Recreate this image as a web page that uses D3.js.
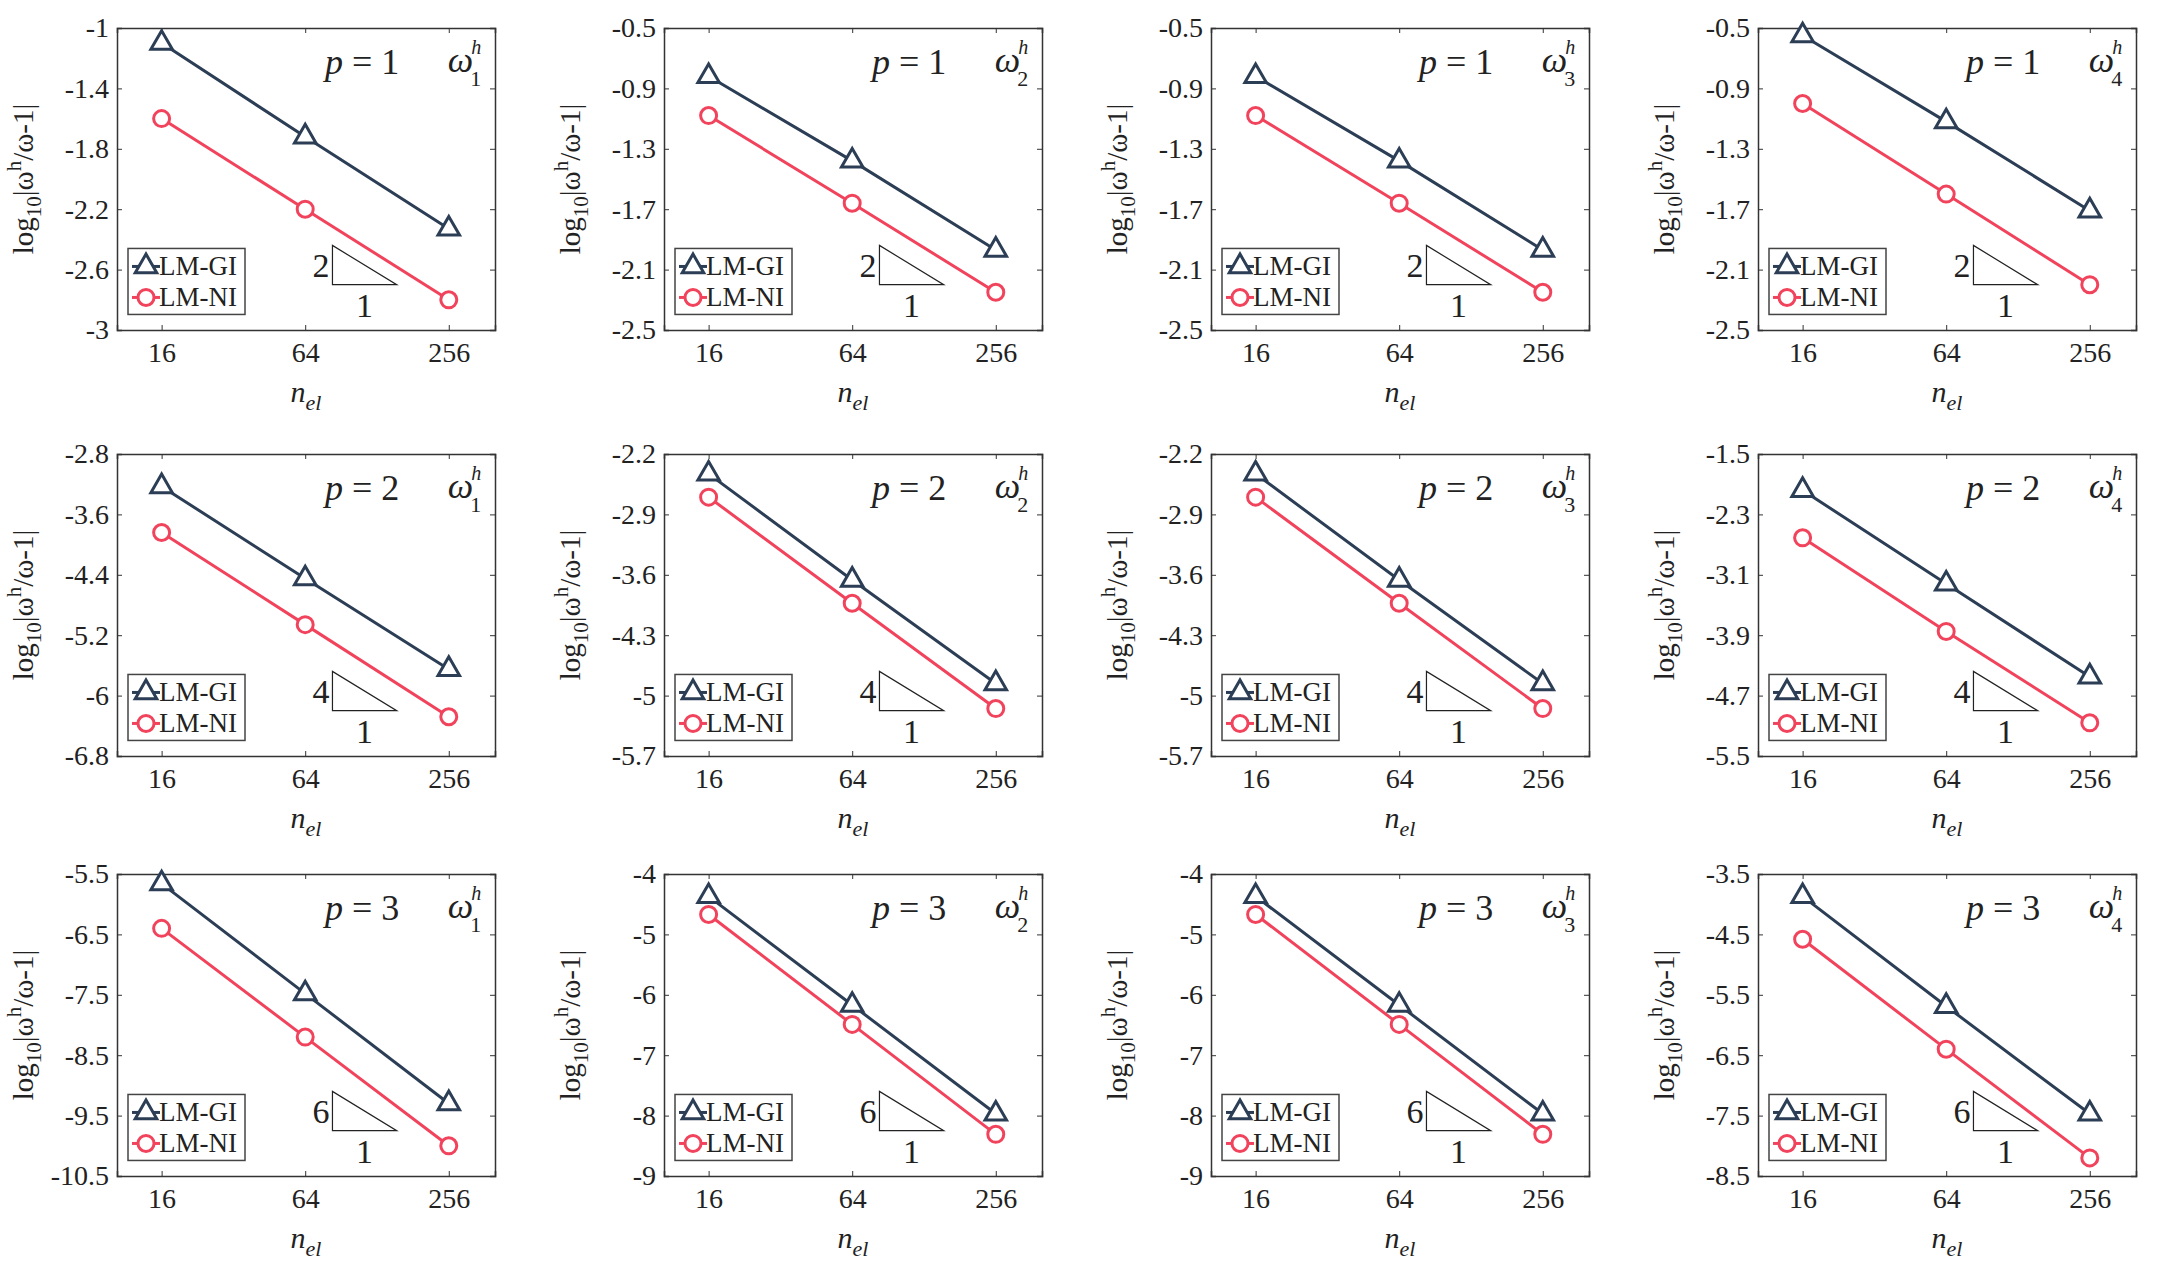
<!DOCTYPE html>
<html><head><meta charset="utf-8">
<script src="https://cdn.jsdelivr.net/npm/d3@7"></script>
<style>body{margin:0;background:#fff}svg text{font-family:'Liberation Serif','DejaVu Serif',serif !important;fill:#222}</style>
</head><body><svg width="2161" height="1265"></svg>
<script>
var canvas = d3.select("svg");

var colorGI = "#2c3e55";
var colorNI = "#f2435c";

var nel = [16, 64, 256];
var orders = [1, 2, 3];
var modes = [1, 2, 3, 4];
var slopes = [2, 4, 6];

// y limits [min, max] and tick step per panel (row = p, col = mode)
var yLimits = [
    [[-3, -1], [-2.5, -0.5], [-2.5, -0.5], [-2.5, -0.5]],
    [[-6.8, -2.8], [-5.7, -2.2], [-5.7, -2.2], [-5.5, -1.5]],
    [[-10.5, -5.5], [-9, -4], [-9, -4], [-8.5, -3.5]]
];
var yStep = [[0.4, 0.4, 0.4, 0.4], [0.8, 0.7, 0.7, 0.8], [1, 1, 1, 1]];

var errGI = [
    [[-1.1, -1.72, -2.33], [-0.82, -1.38, -1.97], [-0.82, -1.38, -1.97], [-0.55, -1.12, -1.71]],
    [[-3.23, -4.45, -5.65], [-2.43, -3.66, -4.86], [-2.43, -3.66, -4.86], [-1.98, -3.22, -4.45]],
    [[-5.66, -7.48, -9.3], [-4.37, -6.17, -7.97], [-4.37, -6.17, -7.97], [-3.87, -5.69, -7.47]]
];
var errNI = [
    [[-1.6, -2.2, -2.8], [-1.08, -1.66, -2.25], [-1.08, -1.66, -2.25], [-1.0, -1.6, -2.2]],
    [[-3.84, -5.06, -6.28], [-2.7, -3.93, -5.15], [-2.7, -3.93, -5.15], [-2.61, -3.85, -5.06]],
    [[-6.4, -8.2, -10.0], [-4.67, -6.49, -8.31], [-4.67, -6.49, -8.31], [-4.58, -6.4, -8.2]]
];

var colLeft = [117, 664, 1211, 1758];
var rowTop = [28, 454, 874];
var iInnerWidth = 378;
var iInnerHeight = 302;

orders.forEach(function (p, r) {
    modes.forEach(function (m, c) {
        drawPanel(r, c, p, m);
    });
});

function drawPanel(r, c, p, m) {
    var g = canvas.append("g").attr("transform", `translate(${colLeft[c]},${rowTop[r]})`);
    var lim = yLimits[r][c];

    var xScale = d3.scaleLog().base(2).domain([10.4, 400]).range([0, iInnerWidth]);
    var yScale = d3.scaleLinear().domain(lim).range([iInnerHeight, 0]);

    var ticks = [];
    for (var i = 0; i <= 5; i++) ticks.push(+(lim[0] + i * yStep[r][c]).toFixed(2));

    g.append("g").attr("transform", `translate(0,${iInnerHeight})`)
        .call(d3.axisBottom(xScale).tickValues(nel).tickFormat(d3.format("d")).tickSize(-5).tickPadding(12));
    g.append("g").call(d3.axisTop(xScale).tickValues(nel).tickFormat("").tickSize(-5));
    g.append("g").call(d3.axisLeft(yScale).tickValues(ticks).tickFormat(d => String(d)).tickSize(-5).tickPadding(8));
    g.append("g").attr("transform", `translate(${iInnerWidth},0)`)
        .call(d3.axisRight(yScale).tickValues(ticks).tickFormat("").tickSize(-5));
    g.selectAll("g").attr("font-family", null);
    g.selectAll(".domain").attr("stroke", "#333").attr("stroke-width", 1.5);
    g.selectAll(".tick line").attr("stroke", "#333");
    g.selectAll(".tick text").style("font-size", "28px").attr("fill", "#222");

    var line = d3.line().x((d, i) => xScale(nel[i])).y(d => yScale(d));

    [[errGI[r][c], colorGI, "tri"], [errNI[r][c], colorNI, "circ"]].forEach(function (s) {
        g.append("path").attr("d", line(s[0])).attr("fill", "none").attr("stroke", s[1]).attr("stroke-width", 3);
        s[0].forEach(function (v, i) {
            drawMarker(g, s[2], xScale(nel[i]), yScale(v), s[1]);
        });
    });

    // title
    var t = g.append("text").attr("x", iInnerWidth * 0.55).attr("y", 46).style("font-size", "36px");
    t.append("tspan").style("font-style", "italic").text("p");
    t.append("tspan").text(" = " + p);
    var w = g.append("text").attr("x", iInnerWidth * 0.875).attr("y", 44).style("font-size", "36px").style("font-style", "italic");
    w.append("tspan").text("ω");
    w.append("tspan").attr("dx", -2).attr("dy", -18).style("font-size", "20px").text("h");
    w.append("tspan").attr("dx", -11).attr("dy", 32).style("font-size", "22px").style("font-style", "normal").text(m);

    // y label
    var yl = g.append("text").attr("transform", `translate(-84,${iInnerHeight / 2}) rotate(-90)`)
        .attr("text-anchor", "middle").style("font-size", "29px");
    yl.append("tspan").text("log");
    yl.append("tspan").attr("dy", 8).style("font-size", "21px").text("10");
    yl.append("tspan").attr("dy", -8).text("|ω");
    yl.append("tspan").attr("dy", -12).style("font-size", "21px").text("h");
    yl.append("tspan").attr("dy", 12).text("/ω-1|");

    // x label
    var xl = g.append("text").attr("x", iInnerWidth / 2).attr("y", iInnerHeight + 72)
        .attr("text-anchor", "middle").style("font-size", "30px").style("font-style", "italic");
    xl.append("tspan").text("n");
    xl.append("tspan").attr("dy", 8).style("font-size", "22px").text("el");

    // slope triangle
    var tx0 = iInnerWidth * 0.57, tx1 = iInnerWidth * 0.74, ty0 = iInnerHeight * 0.72, ty1 = iInnerHeight * 0.85;
    g.append("path").attr("d", `M${tx0},${ty0}L${tx0},${ty1}L${tx1},${ty1}Z`).attr("fill", "none")
        .attr("stroke", "#222").attr("stroke-width", 1.2);
    g.append("text").attr("x", tx0 - 3).attr("y", (ty0 + ty1) / 2 + 12).attr("text-anchor", "end")
        .style("font-size", "34px").text(slopes[r]);
    g.append("text").attr("x", (tx0 + tx1) / 2).attr("y", ty1 + 32).attr("text-anchor", "middle")
        .style("font-size", "34px").text("1");

    // legend
    var lx = 11, ly = iInnerHeight * 0.73, lw = 117, lh = 66;
    g.append("rect").attr("x", lx).attr("y", ly).attr("width", lw).attr("height", lh)
        .attr("fill", "#fff").attr("stroke", "#444").attr("stroke-width", 1.5);
    [["LM-GI", colorGI, "tri"], ["LM-NI", colorNI, "circ"]].forEach(function (s, i) {
        var yy = ly + 18 + i * 31;
        g.append("line").attr("x1", lx + 4).attr("x2", lx + 32).attr("y1", yy).attr("y2", yy)
            .attr("stroke", s[1]).attr("stroke-width", 3);
        drawMarker(g, s[2], lx + 18, yy, s[1]);
        g.append("text").attr("x", lx + 31).attr("y", yy + 9).style("font-size", "27px").text(s[0]);
    });
}

function drawMarker(g, type, x, y, color) {
    if (type === "tri") {
        g.append("path").attr("d", d3.symbol(d3.symbolTriangle, 200)())
            .attr("transform", `translate(${x},${y})`).attr("fill", "#fff").attr("stroke", color).attr("stroke-width", 3);
    } else {
        g.append("circle").attr("cx", x).attr("cy", y).attr("r", 8)
            .attr("fill", "#fff").attr("stroke", color).attr("stroke-width", 3);
    }
}
</script></body></html>
